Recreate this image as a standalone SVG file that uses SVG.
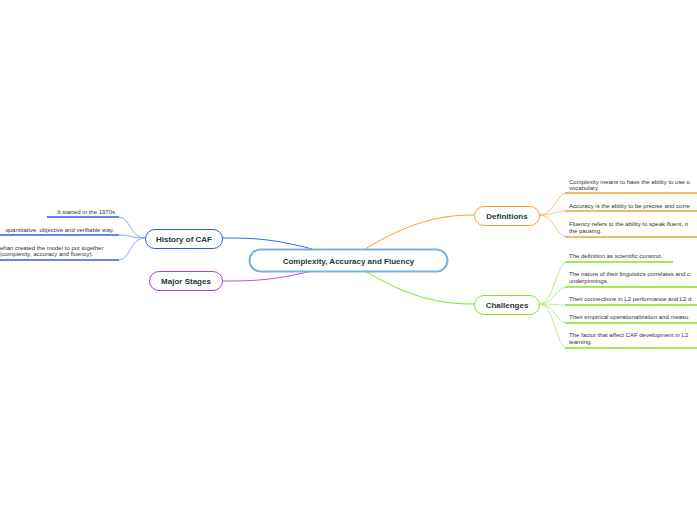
<svg xmlns="http://www.w3.org/2000/svg" width="697" height="520" viewBox="0 0 697 520">
<style>
text{font-family:"Liberation Sans",Arial,sans-serif}
.t{font-size:6px;fill:#333}
.n{font-size:8px;font-weight:bold;fill:#1a3a3a}
.c{fill:none;stroke-width:1}
</style>
<rect width="697" height="520" fill="#fff"/>
<g id="connectors" fill="none">
<path d="M312,249 C270,238 250,238 222,238" stroke="#2e6ae6"/>
<path d="M312,271 C270,281 250,281 222,281" stroke="#b84fe8"/>
<path d="M365,249 C410,222 440,215 474,215" stroke="#f7a030"/>
<path d="M365,271 C410,298 440,304 474,304" stroke="#88e02a"/>
<g stroke="#8aa8f5">
<path d="M145,238 C130,238 130,217 119,217"/>
<path d="M145,238 C130,238 130,235 119,235"/>
<path d="M145,238 C130,238 130,260 119,260"/>
</g>
<g stroke="#f9c07a">
<path d="M539,215 C555,215 555,193 568,193"/>
<path d="M539,215 C555,215 555,211 568,211"/>
<path d="M539,215 C555,215 555,237 568,237"/>
</g>
<g stroke="#b9ef86">
<path d="M539,304 C555,304 555,262 568,262"/>
<path d="M539,304 C555,304 555,287 568,287"/>
<path d="M539,304 C555,304 555,305 568,305"/>
<path d="M539,304 C555,304 555,323 568,323"/>
<path d="M539,304 C555,304 555,348 568,348"/>
</g>
</g>
<g id="center"><rect x="249.5" y="249.5" width="198" height="22" rx="11" fill="#fff" stroke="#7fb0d8" stroke-width="2"/><text x="348.5" y="264" class="n" font-size="9" text-anchor="middle">Complexity, Accuracy and Fluency</text></g>
<g id="history"><rect x="145.5" y="229.5" width="77" height="19" rx="9.5" fill="#fff" stroke="#2e5fe0"/><text x="184" y="241.5" class="n" text-anchor="middle">History of CAF</text></g>
<g id="major"><rect x="149.5" y="271.5" width="73" height="19" rx="9.5" fill="#fff" stroke="#a83ee6"/><text x="186" y="283.5" class="n" text-anchor="middle">Major Stages</text></g>
<g id="definitions"><rect x="474.5" y="206.5" width="65" height="19" rx="9.5" fill="#fff" stroke="#f7a030"/><text x="507" y="218.5" class="n" text-anchor="middle">Definitions</text></g>
<g id="challenges"><rect x="474.5" y="295.5" width="65" height="19" rx="9.5" fill="#fff" stroke="#88e02a"/><text x="507" y="307.5" class="n" text-anchor="middle">Challenges</text></g>
<g id="hist-leaves">
<text x="115" y="214" class="t" text-anchor="end">It started in the 1970s</text><line x1="47" y1="217" x2="119" y2="217" stroke="#2e5fe0" stroke-width="1.5"/>
<text x="114" y="232" class="t" text-anchor="end">quantitative, objective and verifiable way.</text><line x1="0" y1="235" x2="119" y2="235" stroke="#2e5fe0" stroke-width="1.5"/>
<text x="0" y="250" class="t">ehan created the model to put together</text><text x="0" y="256" class="t">(complexity, accuracy and fluency).</text><line x1="0" y1="260" x2="119" y2="260" stroke="#2e5fe0" stroke-width="1.5"/>
</g>
<g id="def-leaves">
<text x="569" y="184" class="t">Complexity means to have the ability to use o</text><text x="569" y="190" class="t">vocabulary.</text><line x1="565" y1="193" x2="697" y2="193" stroke="#f7a030" stroke-width="1.5"/>
<text x="569" y="208" class="t">Accuracy is the ability to be precise and corre</text><line x1="565" y1="211" x2="697" y2="211" stroke="#f7a030" stroke-width="1.5"/>
<text x="569" y="226" class="t">Fluency refers to the ability to speak fluent, n</text><text x="569" y="233" class="t">the pausing.</text><line x1="565" y1="237" x2="697" y2="237" stroke="#f7a030" stroke-width="1.5"/>
</g>
<g id="chal-leaves">
<text x="569" y="258" class="t">The definition as scientific construt.</text><line x1="565" y1="262" x2="673" y2="262" stroke="#88e02a" stroke-width="1.5"/>
<text x="569" y="276" class="t">The nature of their linguistics correlates and c</text><text x="569" y="283" class="t">underpinnings.</text><line x1="565" y1="287" x2="697" y2="287" stroke="#88e02a" stroke-width="1.5"/>
<text x="569" y="301" class="t">Their connections in L2 performance and L2 d</text><line x1="565" y1="305" x2="697" y2="305" stroke="#88e02a" stroke-width="1.5"/>
<text x="569" y="319" class="t">Their empirical operationalization and measu</text><line x1="565" y1="323" x2="697" y2="323" stroke="#88e02a" stroke-width="1.5"/>
<text x="569" y="337" class="t">The factor that affect CAF development in L2</text><text x="569" y="344" class="t">learning.</text><line x1="565" y1="348" x2="697" y2="348" stroke="#88e02a" stroke-width="1.5"/>
</g>
</svg>
